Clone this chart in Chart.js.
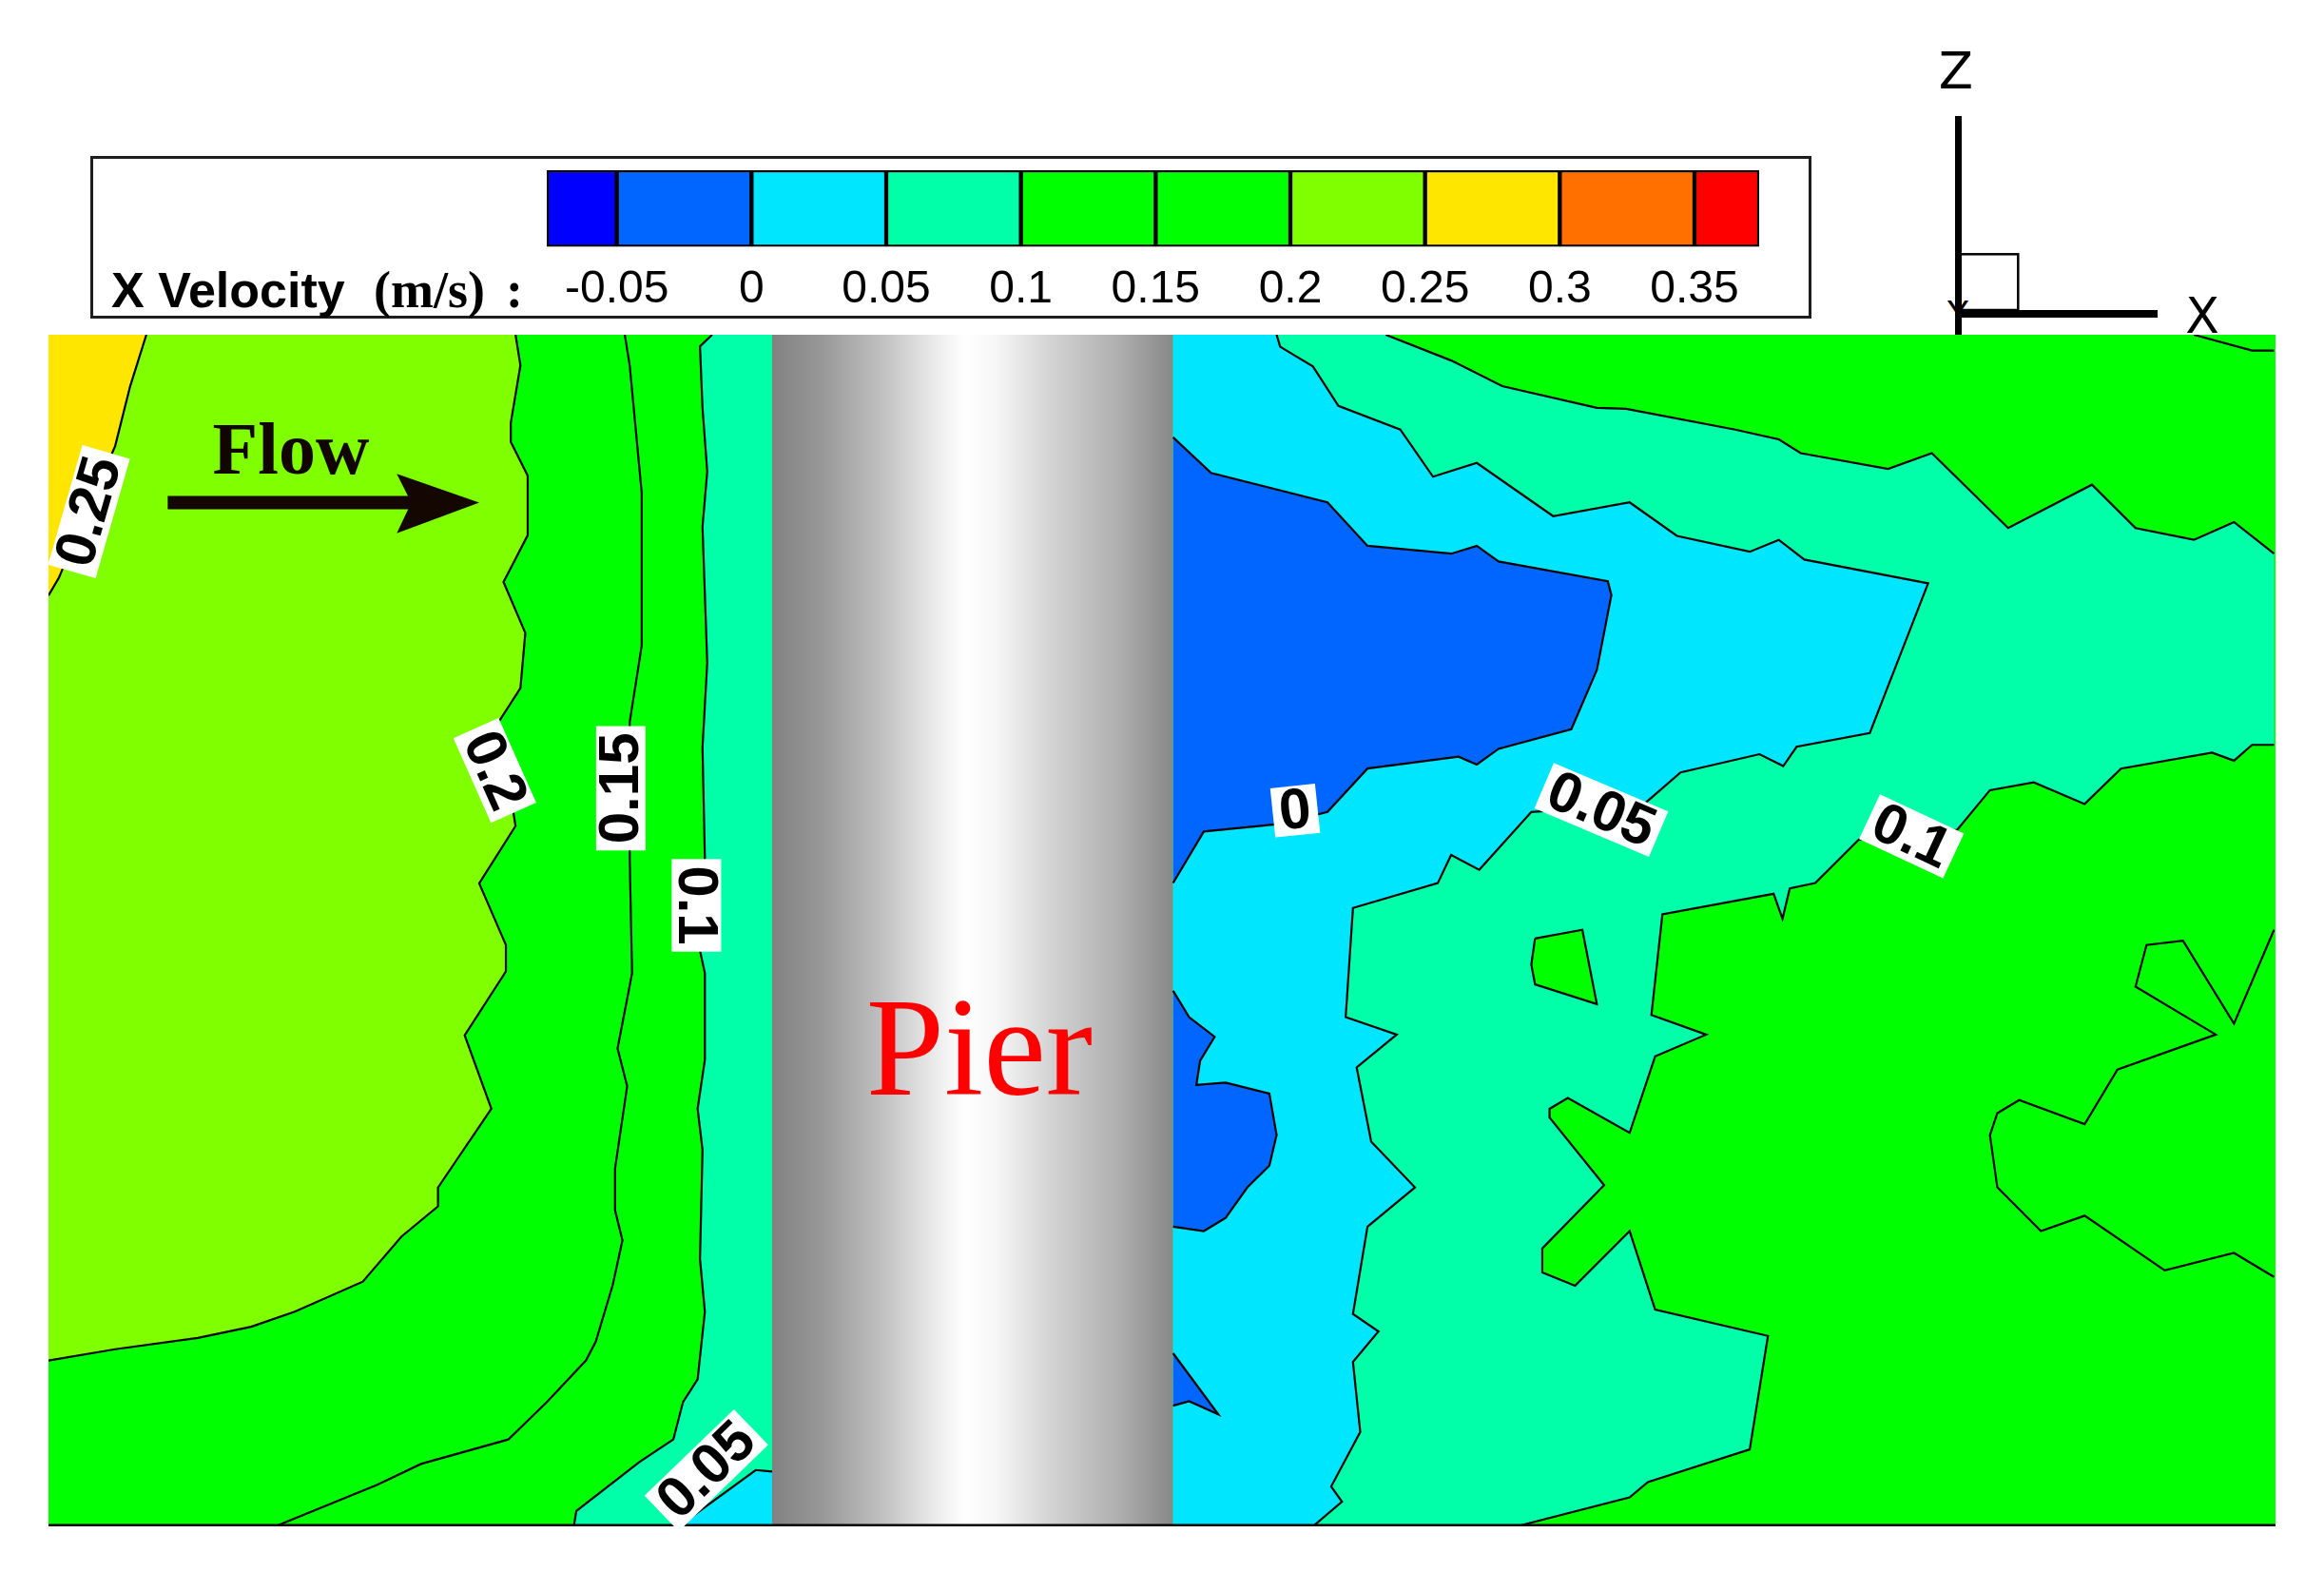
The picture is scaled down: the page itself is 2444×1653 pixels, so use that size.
<!DOCTYPE html>
<html><head><meta charset="utf-8">
<script src="https://cdn.jsdelivr.net/npm/chart.js@4.4.1/dist/chart.umd.min.js"></script>
<style>
html,body{margin:0;padding:0;background:#fff;}
body{width:2444px;height:1653px;position:relative;overflow:hidden;}
#deco{position:absolute;left:0;top:0;}
#barWrap{position:absolute;left:575px;top:179px;}
#plotWrap{position:absolute;left:51px;top:352px;}
</style></head><body>
<svg id="deco" width="2444" height="352" xmlns="http://www.w3.org/2000/svg">
  <rect x="96.5" y="165.5" width="1807" height="168" fill="none" stroke="#1e1e1e" stroke-width="3"/>
  <text x="117" y="323" font-family="Liberation Sans, Arial, sans-serif" font-weight="bold" font-size="52">X Velocity</text>
  <text x="393" y="323" font-family="Liberation Serif, Times New Roman, serif" font-weight="bold" font-size="54">(m/s)</text>
  <text x="532" y="323" font-family="Liberation Serif, Times New Roman, serif" font-weight="bold" font-size="54">:</text>
  <text x="2059" y="342" text-anchor="middle" font-family="DejaVu Sans, sans-serif" font-size="36">Y</text>
  <line x1="2059.5" y1="122" x2="2059.5" y2="352" stroke="#000" stroke-width="7"/>
  <line x1="2056" y1="330" x2="2269" y2="330" stroke="#000" stroke-width="8"/>
  <rect x="2061.7" y="267.3" width="60.6" height="58.7" fill="none" stroke="#000" stroke-width="2.5"/>
  <text x="2057" y="92.7" text-anchor="middle" font-family="DejaVu Sans, sans-serif" font-size="53">Z</text>
  <text x="2316" y="350" text-anchor="middle" font-family="DejaVu Sans, sans-serif" font-size="52">X</text>
</svg>
<div id="barWrap"><canvas id="bar" width="1275" height="161"></canvas></div>
<div id="plotWrap"><canvas id="plot" width="2342" height="1253"></canvas></div>
<script>
// ---------- colour legend data ----------
const levels = [-0.05, 0, 0.05, 0.1, 0.15, 0.2, 0.25, 0.3, 0.35];
const levelLabels = ['-0.05', '0', '0.05', '0.1', '0.15', '0.2', '0.25', '0.3', '0.35'];
const bandLow  = [-0.076, -0.05, 0, 0.05, 0.1, 0.15, 0.2, 0.25, 0.3, 0.35];
const bandHigh = [-0.05, 0, 0.05, 0.1, 0.15, 0.2, 0.25, 0.3, 0.35, 0.374];
const bandColors = ['#0000ff', '#0066ff', '#00e6ff', '#00ffa8', '#00ff00', '#00ff00', '#80ff00', '#ffe600', '#ff7000', '#ff0000'];

// ---------- domain (plot units, y measured downward from top) ----------
const domainX = [0, 1502];
const domainY = [0, 804];
const pierX = [488, 758.3];

// ---------- contour lines ----------
const line025 = [[66,0],[55,35],[45,75],[26,119],[7,164],[0,176]];
const line02 = [[315,0],[318.3,20.7],[311.8,59.4],[311.8,72.3],[323.2,95.2],[323.2,135.3],[306.9,166.8],[321.6,201.2],[318.3,238.4],[303.6,261.3],[315,331.5],[290.5,370.2],[308.5,411.7],[308.5,429.6],[280.7,472.7],[298.7,522.2],[262.7,575.4],[262.7,588.1],[238.1,608.4],[212,638.9],[166.1,659.2],[136.7,669.3],[100.7,676.9],[45,684.5],[0,692.1]];
const line015L = [[388.7,0],[392,20.7],[400.1,106.7],[400.1,209.8],[392,261.3],[392,353],[393.6,430.8],[383.8,481.6],[390.3,507],[382.1,562.7],[382.1,590.7],[387.1,611],[380.5,641.4],[369.1,679.4],[362.5,692.1],[336.3,720],[310.1,745.4],[251.2,761.9],[221.8,775.9],[153,804]];
const line01L = [[447.6,0],[439.4,7.9],[441.1,49.4],[444.3,92.3],[441.1,129.6],[444.3,221.2],[441.1,278.5],[442.7,353],[439.4,415.6],[442.7,430.8],[442.7,489.2],[437.8,522.2],[441.1,550],[439.4,623.6],[442.7,659.2],[437.8,704.8],[428,720],[421.4,745.4],[398.5,760.6],[356,793.6],[354.3,804]];
const line005L = [[488,767],[477,766],[425,804]];
const line01Rup = [[901.9,0],[946.1,17.4],[980.5,34.7],[1044.3,49.3],[1064,50],[1137.6,64],[1167,70.6],[1181.8,79.9],[1240.7,90.5],[1270.2,79.9],[1321.7,130.4],[1378.2,101.2],[1407.6,130.4],[1447,138.4],[1474,126.4],[1501,147.7]];
const line01Rlow = [[1501,276.7],[1486.2,276.7],[1474,287.4],[1459.2,282],[1397.8,292.7],[1373.3,316.6],[1339,302],[1309.4,307.3],[1287.4,334],[1221,340.6],[1191.6,369.9],[1174.4,373.6],[1169.5,394],[1163.5,377.2],[1088.5,391.1],[1081.1,458.9],[1118,472.2],[1083.6,486.9],[1066.4,538.5],[1024.7,514.9],[1012.4,522.3],[1012.4,528.2],[1049.2,573.8],[1007.5,616.5],[1007.5,632.7],[1029.6,641.6],[1066.4,604.8],[1083.6,657.8],[1159.7,675.5],[1147.4,752.1],[1078.7,774.1],[1066.4,784.5],[990.3,804]];
const line005R = [[828.3,0],[830.7,8.1],[852.8,21.4],[870,48],[911.7,64],[933.8,95.8],[963.3,86.5],[1014.8,122.4],[1066.4,113.1],[1098.3,135.7],[1147.4,146.4],[1167,138.4],[1184.2,151.7],[1267.7,167.7],[1228.4,268.7],[1179,278],[1170,291],[1154,283],[1100.8,295.3],[1076.2,316.6],[1000.1,322],[965,361],[946,351],[937,370],[879.8,386.8],[874.9,460.4],[909.3,472.2],[882.3,494.3],[892.1,544.4],[921.6,575.3],[889.6,601.8],[879.8,660.7],[897,672.5],[879.8,693.1],[884.7,740.3],[865.1,777.1],[872.4,787.4],[852.8,804]];
const line0Rup = [[758.5,69.2],[784.1,93.2],[862.6,113.1],[889.6,142.4],[946.1,147.7],[963.3,142.4],[978,153],[1051.7,166.3],[1054.1,175.6],[1044.3,226.2],[1027.1,266.1],[978,279.4],[963.3,290],[951,284.7],[889.6,292.7],[862.6,322],[830.7,330],[779.2,335.2],[758.5,369.9]];
const line0Blob = [[758.5,442.7],[769.3,460.4],[786.5,473.7],[776.7,489.9],[774.2,506.1],[793.9,504.6],[823.4,512],[828.3,540],[823.4,560.6],[808.6,575.3],[793.9,595.9],[779.2,604.8],[758.5,601.8]];
const line0Tri = [[758.5,687.2],[789,728.5],[769.3,719.6],[758.5,722.6]];
const line01Island = [[1002.6,407.4],[1034.5,401.5],[1044.3,451.6],[1002.6,438.3],[1000.1,425],[1002.6,407.4]];
const line015Rloop = [[1501,401.5],[1474,464.8],[1439.6,408.8],[1415,411.8],[1407.6,439.8],[1461.7,472.2],[1395.4,495.8],[1373.3,532.6],[1329.1,516.4],[1314.4,525.2],[1309.4,540],[1314.4,575.3],[1343.8,604.8],[1373.3,594.4],[1427.3,631.3],[1474,619.5],[1501,635.7]];
const line015Rtop = [[1446.9,0],[1486.2,10.7],[1501,10.7]];

// ---------- contour labels ----------
const labelTexts  = ['0.25', '0.2', '0.15', '0.1', '0.05', '0', '0.05', '0.1'];
const labelX      = [27.3, 301, 386, 437, 443.7, 840.8, 1047.3, 1256.5];
const labelY      = [119.4, 294, 306, 385, 766.2, 321, 320.6, 338.4];
const labelAngles = [-74, 66, -90, 90, -44, -6, 23, 25];

// ---------- annotations ----------
const flowShaft = [[80.4,113.3],[246,113.3]];
const flowHead = [[234.9,93.8],[290.5,113.3],[234.9,133.9],[244.7,113.3]];
const noteTexts = ['Flow', 'Pier'];
const noteX = [163.5, 627.8];
const noteY = [94, 512.9];

// ---------- regions built from the lines ----------
const C = {blue: bandColors[1], cyan: bandColors[2], aqua: bandColors[3], green: bandColors[4], ygreen: bandColors[6], yellow: bandColors[7]};
const domainRegion = [[domainX[0],domainY[0]],[domainX[1],domainY[0]],[domainX[1],domainY[1]],[domainX[0],domainY[1]]];
const fillLayers = [
  {pts: domainRegion, color: C.green},
  {pts: [[0,0], ...line02], color: C.ygreen},
  {pts: [[0,0], ...line025], color: C.yellow},
  {pts: [...line01L, [pierX[0],804], [pierX[0],0]], color: C.aqua},
  {pts: [...line005L, [pierX[0],804]], color: C.cyan},
  {pts: [[pierX[1],0], ...line01Rup, ...line01Rlow, [pierX[1],804]], color: C.aqua},
  {pts: [[pierX[1],0], ...line005R, [pierX[1],804]], color: C.cyan},
  {pts: line0Rup, color: C.blue},
  {pts: line0Blob, color: C.blue},
  {pts: line0Tri, color: C.blue},
  {pts: line01Island, color: C.green},
  {pts: [[pierX[0],0],[pierX[1],0],[pierX[1],804],[pierX[0],804]], color: '#c0c0c0', gradient: [[0,'#828282'],[0.12,'#979797'],[0.28,'#c2c2c2'],[0.4,'#e9e9e9'],[0.48,'#ffffff'],[0.56,'#f6f6f6'],[0.7,'#d2d2d2'],[0.86,'#b0b0b0'],[1,'#888888']]},
  {pts: flowHead, color: '#140600'}
];
const contourLines = [line025, line02, line015L, line01L, line005L, line01Rup, line01Rlow, line005R, line0Rup, line0Blob, line0Tri, line01Island, line015Rloop, line015Rtop];

const toXY = a => a.map(p => ({x: p[0], y: p[1]}));
const datasets = [];
fillLayers.forEach((L, i) => datasets.push({
  data: toXY(L.pts), polyFill: true, gradient: L.gradient, backgroundColor: L.color,
  showLine: false, pointRadius: 0, pointHoverRadius: 0, order: 1000 - i
}));
contourLines.forEach((ln, i) => datasets.push({
  data: toXY(ln), showLine: true, borderColor: '#000', borderWidth: 2.2, pointRadius: 0, pointHoverRadius: 0,
  fill: false, tension: 0, order: 100 - i
}));
datasets.push({data: toXY(flowShaft), showLine: true, borderColor: '#140600', borderWidth: 14, borderCapStyle: 'butt', pointRadius: 0, fill: false, order: 5});
datasets.push({data: toXY([[domainX[0],domainY[1]],[domainX[1],domainY[1]]]), showLine: true, borderColor: '#000', borderWidth: 5, pointRadius: 0, fill: false, order: 4});

const polyPlugin = {
  id: 'polyFill',
  beforeDatasetDraw(chart, args) {
    const ds = chart.data.datasets[args.index];
    if (!ds.polyFill) return;
    const pts = args.meta.data;
    const ctx = chart.ctx, a = chart.chartArea;
    ctx.save();
    ctx.beginPath(); ctx.rect(a.left, a.top, a.width, a.height); ctx.clip();
    ctx.beginPath();
    pts.forEach((p, i) => i ? ctx.lineTo(p.x, p.y) : ctx.moveTo(p.x, p.y));
    ctx.closePath();
    let fs = ds.backgroundColor;
    if (ds.gradient) {
      const xs = pts.map(p => p.x);
      const g = ctx.createLinearGradient(Math.min(...xs), 0, Math.max(...xs), 0);
      ds.gradient.forEach(s => g.addColorStop(s[0], s[1]));
      fs = g;
    }
    ctx.fillStyle = fs;
    ctx.fill();
    ctx.restore();
  },
  afterDatasetsDraw(chart) {
    const ctx = chart.ctx, xs = chart.scales.x, ys = chart.scales.y;
    ctx.save();
    ctx.font = 'bold 60px "Liberation Sans", Arial, sans-serif';
    ctx.textAlign = 'center'; ctx.textBaseline = 'middle';
    labelTexts.forEach((t, i) => {
      const px = xs.getPixelForValue(labelX[i]), py = ys.getPixelForValue(labelY[i]);
      ctx.save(); ctx.translate(px, py); ctx.rotate(labelAngles[i] * Math.PI / 180);
      const w = ctx.measureText(t).width + 14, h = 52;
      ctx.fillStyle = '#fff'; ctx.fillRect(-w / 2, -h / 2, w, h);
      ctx.fillStyle = '#000'; ctx.fillText(t, 0, 2);
      ctx.restore();
    });
    ctx.textBaseline = 'alphabetic';
    ctx.fillStyle = '#120500';
    ctx.font = 'bold 78px "Liberation Serif", "Times New Roman", serif';
    ctx.fillText(noteTexts[0], xs.getPixelForValue(noteX[0]), ys.getPixelForValue(noteY[0]));
    ctx.fillStyle = '#ff0000';
    ctx.font = '148px "Liberation Serif", "Times New Roman", serif';
    ctx.fillText(noteTexts[1], xs.getPixelForValue(noteX[1]), ys.getPixelForValue(noteY[1]));
    ctx.restore();
  }
};

new Chart(document.getElementById('plot'), {
  type: 'scatter',
  data: {datasets},
  options: {
    responsive: false, devicePixelRatio: 1, animation: false, events: [],
    layout: {padding: 0},
    plugins: {legend: {display: false}, tooltip: {enabled: false}},
    scales: {
      x: {type: 'linear', min: domainX[0], max: domainX[1], display: false},
      y: {type: 'linear', min: domainY[0], max: domainY[1], reverse: true, display: false}
    }
  },
  plugins: [polyPlugin]
});

new Chart(document.getElementById('bar'), {
  type: 'bar',
  data: {
    labels: [''],
    datasets: bandLow.map((lo, i) => ({
      data: [[lo, bandHigh[i]]], backgroundColor: bandColors[i], borderColor: '#000', borderWidth: 2.5,
      borderSkipped: false, barPercentage: 1, categoryPercentage: 1, grouped: false
    }))
  },
  options: {
    indexAxis: 'y', responsive: false, devicePixelRatio: 1, animation: false, events: [],
    layout: {padding: 0},
    plugins: {legend: {display: false}, tooltip: {enabled: false}},
    scales: {
      x: {
        type: 'linear', min: bandLow[0], max: bandHigh[bandHigh.length - 1], position: 'bottom',
        afterBuildTicks: s => { s.ticks = levels.map(v => ({value: v})); },
        ticks: {autoSkip: false, maxRotation: 0, padding: 9, color: '#000',
          font: {family: '"Liberation Sans", Arial, sans-serif', size: 48, lineHeight: 1.5},
          callback: (v, i) => levelLabels[i]},
        grid: {display: false, drawTicks: false}, border: {display: false}
      },
      y: {display: false}
    }
  }
});
</script>
</body></html>
